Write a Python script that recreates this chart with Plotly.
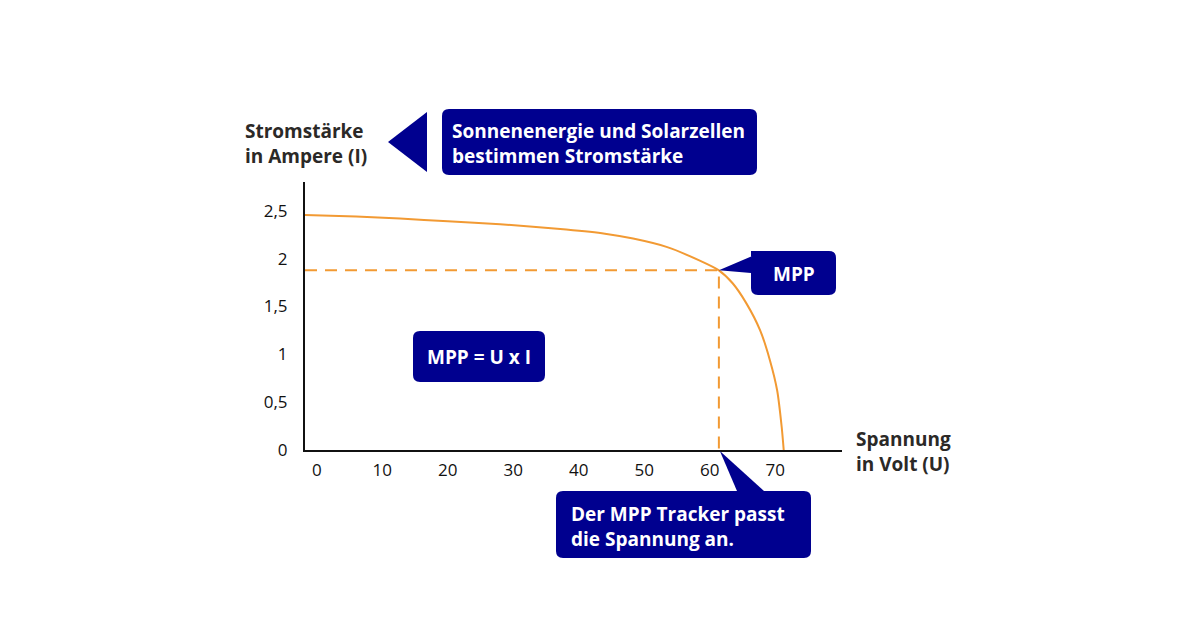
import plotly.graph_objects as go

# IU-Kennlinie eines Solarmoduls
voltage = [-1.8, 6.0, 12.7, 20.0, 28.0, 38.1, 44.0, 48.3, 53.4, 58.4, 61.4,
           63.5, 65.6, 67.7, 69.2, 70.3, 71.0, 71.3]
current = [2.455, 2.44, 2.418, 2.39, 2.359, 2.303, 2.26, 2.209, 2.122, 1.981, 1.877,
           1.742, 1.532, 1.250, 0.936, 0.622, 0.235, 0.0]

mpp_u = 61.4
mpp_i = 1.877

x_ticks = [0, 10, 20, 30, 40, 50, 60, 70]
y_ticks = [0, 0.5, 1, 1.5, 2, 2.5]
y_labels = ["0", "0,5", "1", "1,5", "2", "2,5"]

x_range = [-1.8, 80.2]
y_range = [0, 2.8]

ORANGE = "#F29A33"
NAVY = "#00008F"
TEXT = "#2b2927"
FONT = "Open Sans"

W, H = 1200, 632
OFF = 8  # body margin of the html page
L, R, T, B = 305, 842, 182, 450  # plot area on screen


def to_px(u, i):
    # data -> screen pixel, using the axis ranges
    x = L + (u - x_range[0]) / (x_range[1] - x_range[0]) * (R - L)
    y = B - (i - y_range[0]) / (y_range[1] - y_range[0]) * (B - T)
    return x, y


def pp(x, y):
    # screen pixel -> paper
    return (x - L) / (R - L), (B - y) / (B - T)


def rounded_box(x0, y0, x1, y1, r=7):
    pts = [
        ("M", [(x0 + r, y0)]),
        ("L", [(x1 - r, y0)]),
        ("Q", [(x1, y0), (x1, y0 + r)]),
        ("L", [(x1, y1 - r)]),
        ("Q", [(x1, y1), (x1 - r, y1)]),
        ("L", [(x0 + r, y1)]),
        ("Q", [(x0, y1), (x0, y1 - r)]),
        ("L", [(x0, y0 + r)]),
        ("Q", [(x0, y0), (x0 + r, y0)]),
    ]
    s = ""
    for cmd, coords in pts:
        s += cmd + " " + " ".join("%.5f,%.5f" % pp(*c) for c in coords) + " "
    return s + "Z"


def polygon(points):
    s = ""
    for k, (x, y) in enumerate(points):
        s += ("M " if k == 0 else "L ") + "%.5f,%.5f " % pp(x, y)
    return s + "Z"


fig = go.Figure()

# gestrichelte Hilfslinien zum MPP
fig.add_trace(go.Scatter(
    x=[x_range[0], mpp_u, mpp_u], y=[mpp_i, mpp_i, 0],
    mode="lines", line=dict(color=ORANGE, width=2, dash="12px,8px"),
    hoverinfo="skip", showlegend=False
))

# Kennlinie
fig.add_trace(go.Scatter(
    x=voltage, y=current, mode="lines",
    line=dict(color=ORANGE, width=2, shape="spline", smoothing=0.6),
    showlegend=False
))

mx, my = to_px(mpp_u, mpp_i)
ax_x, ax_y = to_px(mpp_u, 0)

shapes = [
    # Sonnenenergie-Box + Pfeil zur y-Achse
    dict(type="path", path=rounded_box(442, 109, 757, 175)),
    dict(type="path", path=polygon([(388, 142), (427, 112), (427, 172)])),
    # MPP-Box mit Zeiger
    dict(type="path", path=rounded_box(751, 251, 836, 295)),
    dict(type="path", path=polygon([(mx, my), (764, 251), (751, 251), (751, 273)])),
    # MPP = U x I
    dict(type="path", path=rounded_box(413, 331, 545, 382)),
    # Tracker-Box mit Zeiger
    dict(type="path", path=rounded_box(556, 491, 811, 558)),
    dict(type="path", path=polygon([(ax_x + 1, ax_y + 1), (764, 491), (737, 491)])),
]
for s in shapes:
    s.update(xref="paper", yref="paper", fillcolor=NAVY, line=dict(width=0), layer="above")
fig.update_layout(shapes=shapes)


def note(text, x, y, color="white", xanchor="left", yanchor="middle"):
    px_, py_ = pp(x, y)
    fig.add_annotation(
        text=text, x=px_, y=py_, xref="paper", yref="paper",
        xanchor=xanchor, yanchor=yanchor, showarrow=False, align="left",
        font=dict(family=FONT, size=19, color=color, weight="bold"),
    )


note("Sonnenenergie und Solarzellen<br>bestimmen Stromstärke", 450, 143)
note("MPP", 794, 274, xanchor="center")
note("MPP = U x I", 479, 357, xanchor="center")
note("Der MPP Tracker passt<br>die Spannung an.", 569, 526)
note("Stromstärke<br>in Ampere (I)", 243, 144, color=TEXT)
note("Spannung<br>in Volt (U)", 854, 451, color=TEXT)

fig.update_layout(
    width=W, height=H,
    margin=dict(l=L - OFF, r=W - (R - OFF), t=T - OFF, b=H - (B - OFF)),
    paper_bgcolor="white", plot_bgcolor="white",
    font=dict(family=FONT, size=17, color="#111111"),
    xaxis=dict(
        range=x_range, tickvals=x_ticks, showgrid=False, zeroline=False,
        showline=True, linecolor="#111111", linewidth=2, ticks="",
        ticklabelstandoff=4, fixedrange=True,
        tickfont=dict(size=17, weight=500),
    ),
    yaxis=dict(
        range=y_range, tickvals=y_ticks, ticktext=y_labels, showgrid=False,
        zeroline=False, showline=True, linecolor="#111111", linewidth=2,
        ticks="", ticklabelstandoff=12, fixedrange=True,
        tickfont=dict(size=17, weight=500),
    ),
)

fig.write_html("out.html")
